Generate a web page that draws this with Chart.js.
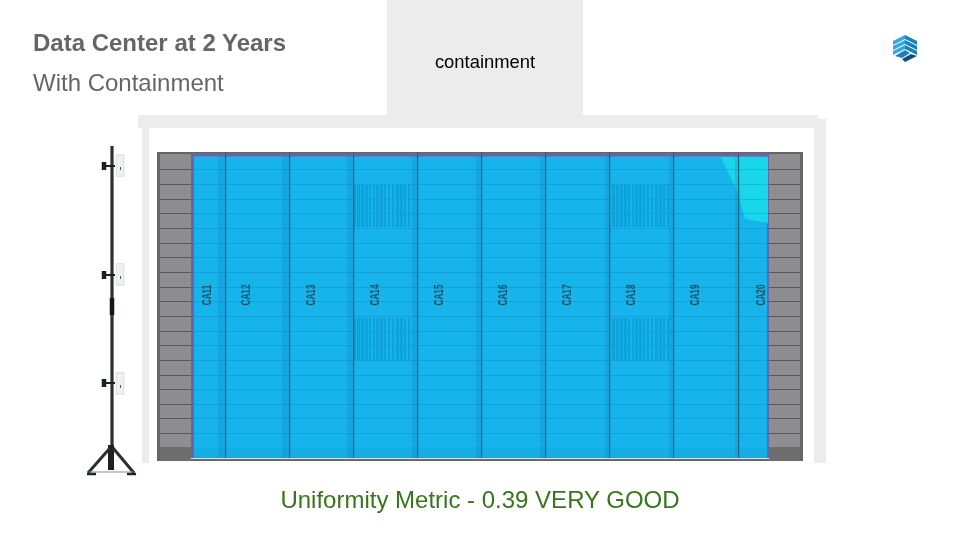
<!DOCTYPE html>
<html>
<head>
<meta charset="utf-8">
<script src="https://cdn.jsdelivr.net/npm/chart.js@4"></script>
<style>
  html, body { margin: 0; padding: 0; background: #fff; }
  #slide { position: relative; width: 960px; height: 540px; overflow: hidden; font-family: "Liberation Sans", Arial, sans-serif; }
  #floor { position: absolute; left: 0; top: 0; }
  .txt { position: absolute; white-space: nowrap; line-height: 1; }
</style>
</head>
<body>
<div id="slide">
  <canvas id="floor" width="960" height="540"></canvas>
  <div class="txt" style="left:33px;top:31px;font-size:24px;font-weight:700;color:#666">Data Center at 2 Years</div>
  <div class="txt" style="left:33px;top:71px;font-size:24px;color:#666">With Containment</div>
  <div class="txt" style="left:387px;width:196px;top:53px;font-size:18.4px;color:#000;text-align:center">containment</div>
  <div class="txt" style="left:0;width:960px;top:488px;font-size:24px;color:#38761d;text-align:center">Uniformity Metric - 0.39 VERY GOOD</div>
  <svg style="position:absolute;left:890px;top:32px" width="30" height="32" viewBox="0 0 30 32">
    <polygon points="3,9 15,3 15,7 3,13" fill="#35a8e2"/>
    <polygon points="15,3 27,9 27,13 15,7" fill="#1c7fbc"/>
    <polygon points="3,14 15,8 15,12 3,18" fill="#35a8e2"/>
    <polygon points="15,8 27,14 27,18 15,12" fill="#1c7fbc"/>
    <polygon points="3,19 15,13 15,17 3,23" fill="#35a8e2"/>
    <polygon points="15,13 27,19 27,23 15,17" fill="#1c7fbc"/>
    <polygon points="5,24 15,18 20,21 12,26" fill="#1c7fbc"/>
    <polygon points="12,27 21,22 27,24 15,30" fill="#0c4f7c"/>
  </svg>
</div>
<script>
// floor plan in plan units, one unit is one tenth of a grid square
const aisleNames = ["CA11", "CA12", "CA13", "CA14", "CA15", "CA16", "CA17", "CA18", "CA19", "CA20"];
const aisleNameAt = [20.8, 24.7, 31.2, 37.6, 44.0, 50.4, 56.8, 63.2, 69.6, 76.2];
const aisleEdges = [22.5, 28.9, 35.3, 41.7, 48.1, 54.5, 60.9, 67.3, 73.8];
const aisleShadeFrom = [21.8, 28.2, 34.7, 41.2, 47.6, 54.0, 60.5, 66.9, 73.5];
const rowLines = [16.9, 18.4, 19.9, 21.3, 22.8, 24.3, 25.7, 27.2, 28.7, 30.1, 31.6, 33.1, 34.5, 36.0, 37.5, 38.9, 40.4, 41.8, 43.3];
const ventFrom = [35.3, 61.2];
const ventRows = [[18.5, 22.7], [31.8, 36.0]];
const ventStripes = [[0, 0.3], [0.4, 0.7], [0.8, 1.1], [1.2, 1.5], [1.6, 1.8], [2.0, 2.2], [2.3, 2.6], [2.7, 3.0], [3.1, 3.3], [3.5, 3.7], [3.9, 4.1], [4.3, 4.6], [4.7, 5.0], [5.1, 5.3], [5.5, 5.7]];
const warmEdgeX = [72.07, 73.8, 74.5, 76.8];
const warmEdgeY = [15.7, 19.3, 21.9, 22.3];
const sensorRows = [15.5, 26.4, 37.3];
const clampRows = [16.6, 27.5, 38.3];

const datasets = [];

function rect(x0, x1, y0, y1, color) {
  datasets.push({
    data: [{x: x0, y: y0}, {x: x1, y: y0}],
    borderWidth: 0,
    backgroundColor: color,
    pointRadius: 0,
    fill: {value: y1}
  });
}

function seg(x0, y0, x1, y1, color, width) {
  datasets.push({
    data: [{x: x0, y: y0}, {x: x1, y: y1}],
    borderColor: color,
    borderWidth: width,
    pointRadius: 0,
    fill: false
  });
}

// containment walls
rect(38.7, 58.3, 0, 12, "#ececec");
rect(13.8, 81.8, 11.5, 12.8, "#ececec");
rect(14.2, 14.9, 11.9, 46.3, "#ececec");
rect(81.4, 82.6, 11.9, 46.3, "#ececec");
rect(14.9, 81.4, 12.8, 46.3, "#ffffff");

// grey end bands
rect(15.7, 80.3, 15.2, 46.1, "#666666");
rect(16, 19.1, 15.4, 44.7, "#8e8e90");
rect(76.9, 80, 15.4, 44.7, "#8e8e90");
rect(16, 19.1, 44.7, 46.1, "#6e6e6c");
rect(76.9, 80, 44.7, 46.1, "#6e6e6c");
rowLines.forEach(function (y) {
  rect(16, 19.1, y, y + 0.1, "#58585a");
  rect(76.9, 80, y, y + 0.1, "#58585a");
});

// aisle area
rect(19.1, 76.9, 15.3, 46, "#6864ac");
rect(19.4, 76.7, 15.6, 45.8, "#17b4ec");
rect(19.4, 76.7, 44.7, 45.8, "#14aee6");
rect(19.4, 76.7, 15.6, 15.7, "#4a8fc6");
rect(19.1, 76.9, 45.8, 45.9, "#cfe6f5");

// warmer patch in the corner
datasets.push({
  data: warmEdgeX.map(function (x, i) { return {x: x, y: warmEdgeY[i]}; }),
  borderWidth: 0,
  backgroundColor: "#19d7ea",
  pointRadius: 0,
  fill: {value: 15.7}
});

rowLines.forEach(function (y) {
  rect(19.4, 76.7, y, y + 0.1, "rgba(10,120,180,0.3)");
});

// floor vents
ventFrom.forEach(function (x) {
  ventRows.forEach(function (r) {
    ventStripes.forEach(function (s) {
      rect(x + s[0], x + s[1], r[0], r[1], "#0ca2da");
    });
  });
});

// aisle shade and separator
aisleEdges.forEach(function (x, i) {
  rect(aisleShadeFrom[i], x, 15.6, 45.8, "rgba(10,120,180,0.22)");
  rect(x, x + 0.15, 15.6, 45.8, "#1a6480");
  rect(x, x + 0.1, 15.2, 15.6, "#555555");
});

// sensor mast
seg(11.2, 14.6, 11.2, 47, "#2a3034", 3.2);
seg(11.2, 29.8, 11.2, 31.5, "#15181a", 4.5);
seg(11.1, 44.5, 11.1, 47, "#1c2022", 6);
seg(11, 44.8, 8.8, 47.3, "#2a2e30", 3);
seg(11.3, 44.8, 13.4, 47.3, "#2a2e30", 3);
seg(8.9, 47.2, 13.3, 47.2, "#8a8e90", 1);
seg(8.7, 47.4, 9.6, 47.4, "#22262a", 2.5);
seg(12.7, 47.4, 13.6, 47.4, "#22262a", 2.5);
clampRows.forEach(function (y) {
  seg(10.2, y, 11.5, y, "#1c2022", 2);
  seg(10.4, y - 0.4, 10.4, y + 0.4, "#1c2022", 4.5);
});
sensorRows.forEach(function (y) {
  rect(11.55, 12.45, y - 0.05, y + 2.15, "#c9cfcf");
  rect(11.62, 12.38, y + 0.02, y + 2.08, "#eef1f1");
  rect(12, 12.1, y + 1.2, y + 1.5, "#555555");
});

// aisle names, placed with the chart's own scales
const aisleNamePlugin = {
  id: "aisleNames",
  afterDatasetsDraw: function (chart) {
    const ctx = chart.ctx;
    ctx.save();
    ctx.fillStyle = "#1d4d63";
    ctx.font = "bold 12px 'Liberation Sans'";
    ctx.textAlign = "center";
    ctx.textBaseline = "middle";
    aisleNames.forEach(function (name, i) {
      ctx.save();
      ctx.translate(chart.scales.x.getPixelForValue(aisleNameAt[i]), chart.scales.y.getPixelForValue(29.5));
      ctx.rotate(-Math.PI / 2);
      ctx.scale(0.68, 1);
      ctx.fillText(name, 0, 0);
      ctx.restore();
    });
    ctx.restore();
  }
};

new Chart(document.getElementById("floor"), {
  type: "line",
  data: {datasets: datasets.reverse()},
  plugins: [aisleNamePlugin],
  options: {
    responsive: false,
    animation: false,
    devicePixelRatio: 1,
    layout: {padding: 0},
    parsing: false,
    normalized: false,
    plugins: {
      legend: {display: false},
      tooltip: {enabled: false},
      title: {display: false}
    },
    scales: {
      x: {type: "linear", min: 0, max: 96, display: false},
      y: {type: "linear", min: 0, max: 54, reverse: true, display: false}
    }
  }
});
</script>
</body>
</html>
